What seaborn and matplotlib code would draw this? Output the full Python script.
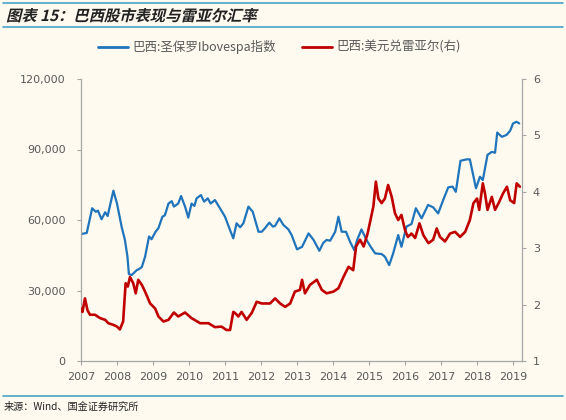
import numpy as np
import pandas as pd
import matplotlib
matplotlib.use("Agg")
import matplotlib.pyplot as plt
import seaborn as sns
from matplotlib.lines import Line2D
from matplotlib.ticker import FuncFormatter
from matplotlib.textpath import TextPath
from matplotlib.patches import PathPatch
from matplotlib.font_manager import FontProperties
from matplotlib.transforms import Affine2D, IdentityTransform

# ── données ────────────────────────────────────────────────────
ibov_t = [2007.00, 2007.16, 2007.31, 2007.41, 2007.47, 2007.57, 2007.67, 2007.74, 2007.90,
          2008.00, 2008.13, 2008.22, 2008.29, 2008.33, 2008.41, 2008.55, 2008.60, 2008.69,
          2008.78, 2008.89, 2008.96, 2009.07, 2009.15, 2009.26, 2009.33, 2009.43, 2009.52,
          2009.58, 2009.70, 2009.78, 2009.89, 2009.98, 2010.07, 2010.15, 2010.21, 2010.33,
          2010.42, 2010.52, 2010.60, 2010.72, 2010.86, 2011.00, 2011.14, 2011.23, 2011.32,
          2011.42, 2011.51, 2011.65, 2011.77, 2011.93, 2012.02, 2012.11, 2012.23, 2012.33,
          2012.39, 2012.51, 2012.62, 2012.76, 2012.85, 2013.00, 2013.14, 2013.32, 2013.46,
          2013.62, 2013.73, 2013.82, 2013.92, 2014.06, 2014.15, 2014.24, 2014.36, 2014.47,
          2014.59, 2014.67, 2014.79, 2014.93, 2015.05, 2015.17, 2015.35, 2015.44, 2015.56,
          2015.67, 2015.81, 2015.90, 2016.04, 2016.18, 2016.30, 2016.46, 2016.64, 2016.78,
          2016.92, 2017.06, 2017.20, 2017.32, 2017.41, 2017.54, 2017.71, 2017.80, 2017.97,
          2018.08, 2018.16, 2018.29, 2018.41, 2018.50, 2018.56, 2018.69, 2018.82, 2018.92,
          2019.00, 2019.10, 2019.17]
ibov_v = [54.0, 54.5, 65.0, 63.5, 64.0, 60.3, 63.3, 61.7, 72.5,
          67.0, 57.0, 51.5, 44.4, 37.0, 36.6, 38.7, 39.0, 40.0,
          44.4, 53.0, 51.8, 55.0, 56.5, 61.4, 62.0, 67.0, 68.0,
          65.7, 67.0, 70.2, 65.7, 61.0, 67.0, 66.0, 69.2, 70.6,
          67.8, 69.2, 67.0, 68.5, 65.0, 61.4, 55.7, 52.2, 58.6,
          56.9, 58.6, 65.7, 63.5, 55.0, 55.0, 56.5, 58.9, 57.2,
          57.5, 60.7, 57.9, 56.0, 53.6, 47.5, 48.6, 54.3, 51.5,
          46.9, 50.3, 51.5, 51.2, 55.0, 61.4, 55.0, 55.0, 50.8,
          47.2, 51.5, 56.0, 51.5, 48.5, 45.8, 45.5, 44.4, 40.8,
          45.8, 53.6, 48.6, 57.2, 58.3, 65.0, 60.7, 66.4, 65.4,
          62.8, 68.5, 73.9, 74.2, 72.0, 85.2, 85.8, 85.8, 73.5,
          78.4, 77.0, 87.7, 89.0, 88.6, 97.2, 95.4, 96.2, 98.0,
          101.1, 101.8, 101.1]
ibov_v = [v * 1000 for v in ibov_v]

brl_t = [2007.00, 2007.04, 2007.11, 2007.18, 2007.25, 2007.39, 2007.53, 2007.67, 2007.76,
         2007.90, 2008.00, 2008.08, 2008.17, 2008.24, 2008.30, 2008.36, 2008.45, 2008.52,
         2008.59, 2008.69, 2008.78, 2008.92, 2009.06, 2009.15, 2009.29, 2009.43, 2009.58,
         2009.70, 2009.89, 2010.07, 2010.31, 2010.54, 2010.72, 2010.90, 2011.04, 2011.14,
         2011.23, 2011.28, 2011.37, 2011.46, 2011.60, 2011.74, 2011.88, 2012.02, 2012.25,
         2012.39, 2012.53, 2012.67, 2012.81, 2012.94, 2013.08, 2013.14, 2013.22, 2013.36,
         2013.55, 2013.69, 2013.82, 2014.01, 2014.15, 2014.29, 2014.43, 2014.56, 2014.64,
         2014.75, 2014.85, 2014.96, 2015.06, 2015.12, 2015.19, 2015.26, 2015.35, 2015.44,
         2015.53, 2015.63, 2015.72, 2015.81, 2015.90, 2016.00, 2016.08, 2016.18, 2016.28,
         2016.40, 2016.51, 2016.65, 2016.78, 2016.88, 2016.97, 2017.11, 2017.25, 2017.39,
         2017.53, 2017.67, 2017.80, 2017.90, 2018.00, 2018.06, 2018.16, 2018.22, 2018.29,
         2018.41, 2018.50, 2018.60, 2018.72, 2018.83, 2018.92, 2019.03, 2019.10, 2019.19]
brl_v = [1.93, 1.87, 2.11, 1.90, 1.82, 1.82, 1.76, 1.73, 1.67,
         1.64, 1.61, 1.56, 1.70, 2.38, 2.32, 2.49, 2.38, 2.20,
         2.44, 2.35, 2.23, 2.02, 1.93, 1.79, 1.70, 1.73, 1.86,
         1.79, 1.86, 1.76, 1.67, 1.67, 1.60, 1.61, 1.55, 1.55,
         1.87, 1.85, 1.79, 1.87, 1.73, 1.85, 2.05, 2.02, 2.02,
         2.11, 2.02, 1.96, 2.02, 2.23, 2.26, 2.44, 2.20, 2.35,
         2.44, 2.26, 2.20, 2.23, 2.29, 2.49, 2.67, 2.61, 3.03,
         3.15, 3.03, 3.26, 3.56, 3.74, 4.18, 3.88, 3.80, 3.88,
         4.12, 3.91, 3.62, 3.50, 3.59, 3.32, 3.20, 3.26, 3.18,
         3.44, 3.23, 3.09, 3.15, 3.35, 3.20, 3.12, 3.26, 3.29,
         3.20, 3.29, 3.50, 3.80, 3.88, 3.68, 4.15, 3.97, 3.68,
         3.91, 3.68, 3.80, 3.97, 4.09, 3.85, 3.80, 4.15, 4.09]

years = list(range(2007, 2020))
left_ticks = [0, 30000, 60000, 90000, 120000]
right_ticks = [1, 2, 3, 4, 5, 6]

title = "图表 15：巴西股市表现与雷亚尔汇率"
source = "来源：Wind、国金证券研究所"
lab_ibov = "巴西:圣保罗Ibovespa指数"
lab_brl = "巴西:美元兑雷亚尔(右)"

BLUE = "#1F74BC"
RED = "#C00000"
GREY = "#595959"
BG = "#FEFAF0"
RULE = "#4BA3C7"

sns.set_theme(style="ticks")
plt.rcParams["font.family"] = ["Noto Sans CJK SC", "DejaVu Sans"]

fig = plt.figure(figsize=(5.66, 4.2), dpi=100, facecolor=BG)
ax = fig.add_axes([81 / 566, 59 / 420, (521.7 - 81) / 566, (361 - 79) / 420])
ax.set_facecolor(BG)
ax2 = ax.twinx()

df1 = pd.DataFrame({"t": ibov_t, "v": ibov_v})
df2 = pd.DataFrame({"t": brl_t, "v": brl_v})
sns.lineplot(data=df1, x="t", y="v", ax=ax, color=BLUE, linewidth=1.6)
sns.lineplot(data=df2, x="t", y="v", ax=ax2, color=RED, linewidth=1.9)

ax.set_xlim(2007, 2019.24)
ax.set_ylim(0, 120000)
ax2.set_ylim(1, 6)
ax.set_xticks(years)
ax.set_xticklabels([str(y) for y in years])
ax.set_yticks(left_ticks)
ax.yaxis.set_major_formatter(FuncFormatter(lambda v, p: f"{int(v):,}"))
ax2.set_yticks(right_ticks)
ax.set_xlabel("")
ax.set_ylabel("")
ax2.set_ylabel("")

for a in (ax, ax2):
    for s in a.spines.values():
        s.set_color("#A6A6A6")
        s.set_linewidth(0.9)
    a.spines["top"].set_visible(False)
    a.tick_params(colors="#A6A6A6", labelcolor=GREY, labelsize=8, length=3, width=0.8)
    for lab in a.get_xticklabels() + a.get_yticklabels():
        lab.set_family("DejaVu Sans")
ax.spines["right"].set_visible(False)
ax2.spines["left"].set_visible(False)
ax2.spines["bottom"].set_visible(False)
ax.tick_params(axis="y", pad=8)
ax2.tick_params(axis="y", pad=5)
ax.tick_params(axis="x", pad=5)

handles = [Line2D([], [], color=BLUE, linewidth=2.0), Line2D([], [], color=RED, linewidth=2.0)]
fig.legend(handles, [lab_ibov, lab_brl], loc="center left", bbox_to_anchor=(98 / 566, 1 - 47 / 420),
           ncol=2, frameon=False, fontsize=9, handlelength=2.4, handletextpad=0.35,
           columnspacing=2.1, borderpad=0, borderaxespad=0, labelcolor=GREY)

# titre en italique simulé (cisaillement du contour)
tp = TextPath((0, 0), title, size=11 * 100 / 72,
              prop=FontProperties(family="Noto Sans CJK SC", weight="bold"))
tr = Affine2D().skew_deg(14, 0).translate(6, 420 - 21)
fig.add_artist(PathPatch(tp, transform=tr + IdentityTransform(), color="#222222", lw=0))

fig.text(4 / 566, 1 - 407 / 420, source, fontsize=7.3, va="center", ha="left", color="#222222")
for yy in (2.5, 27, 396):
    fig.add_artist(Line2D([3 / 566, 563 / 566], [1 - yy / 420, 1 - yy / 420],
                          transform=fig.transFigure, color=RULE, linewidth=1.2))

fig.savefig("out.png", dpi=100, facecolor=BG)
